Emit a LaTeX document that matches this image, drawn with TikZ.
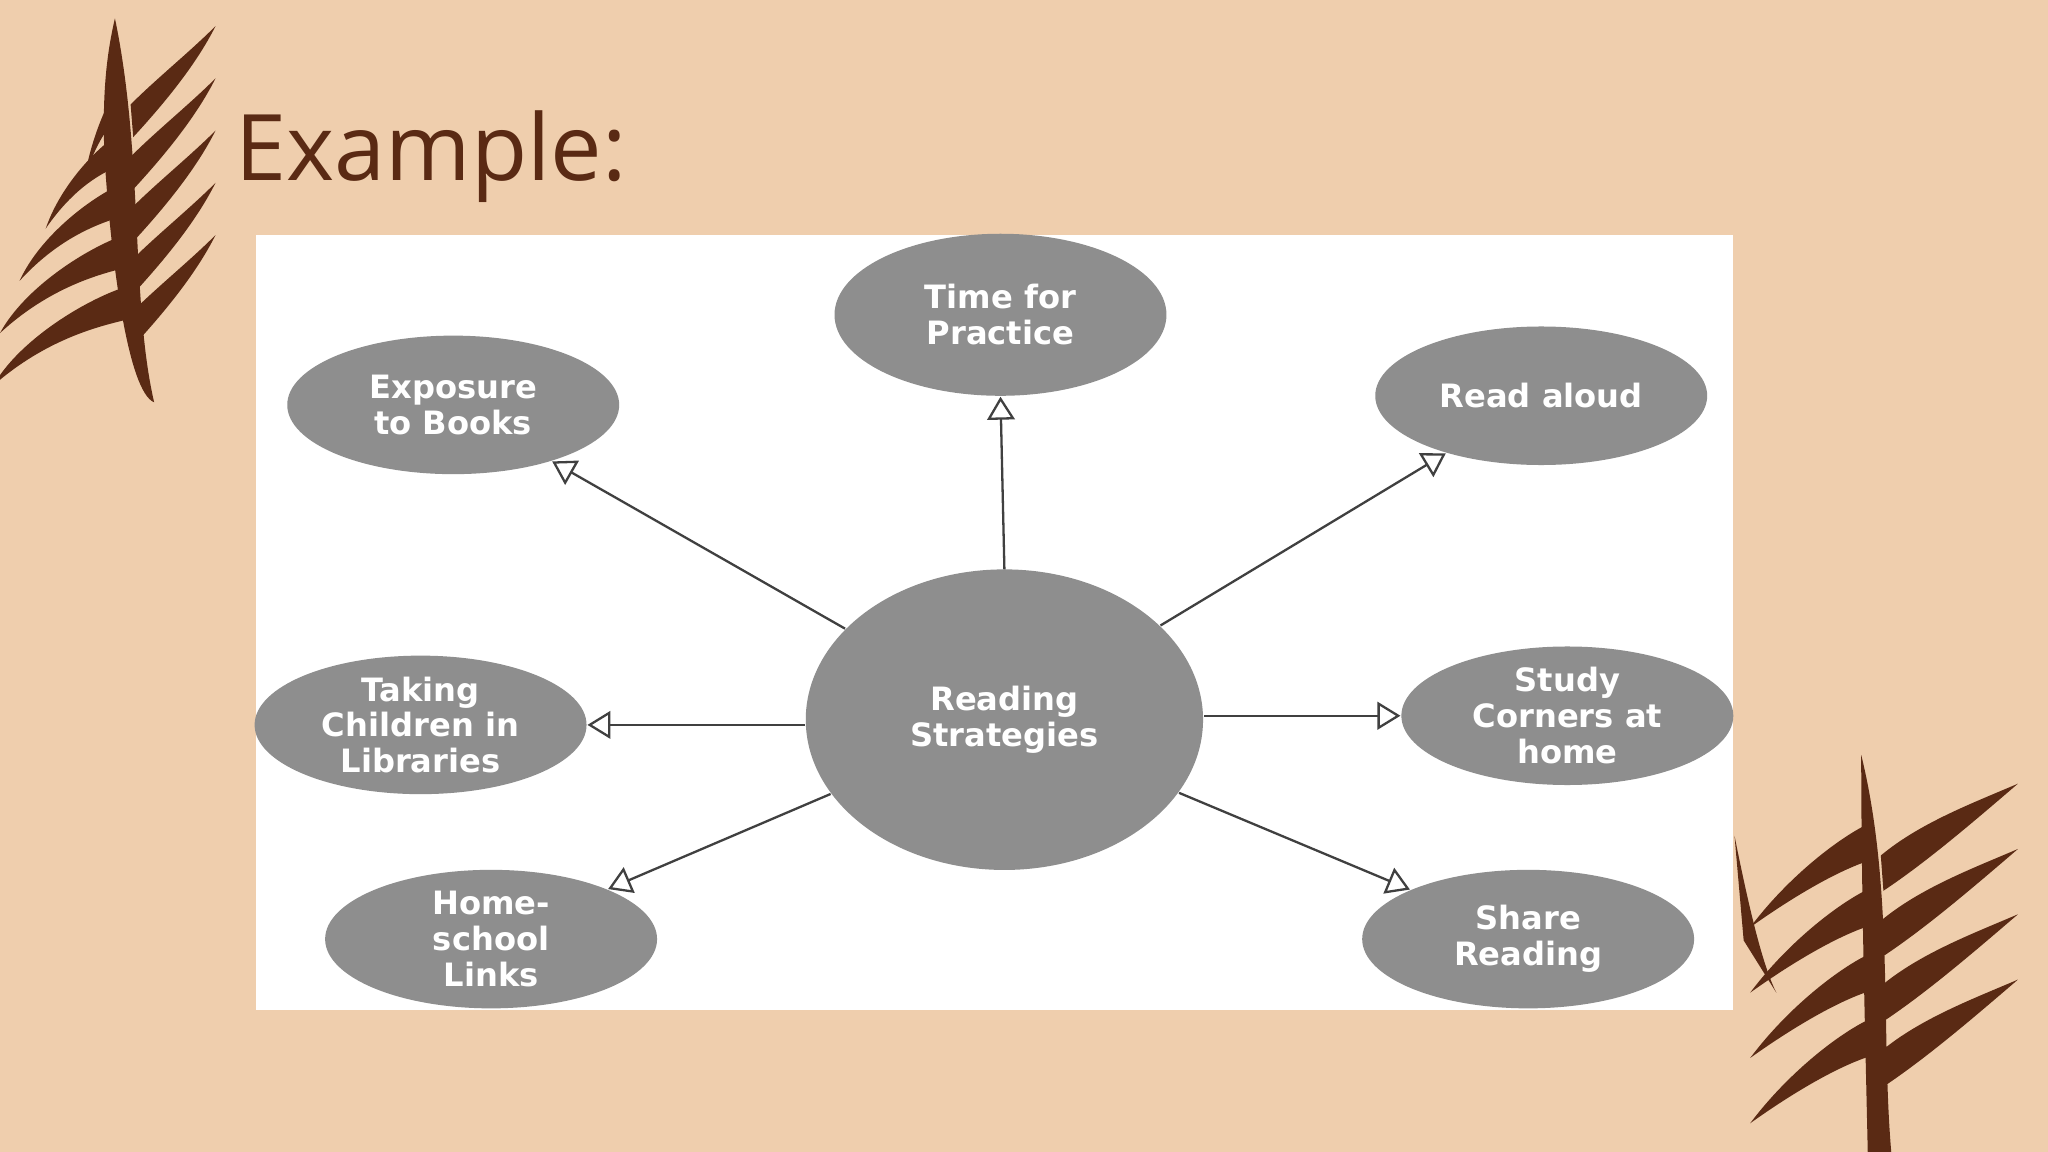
\documentclass[tikz,border=0pt]{standalone}
\usepackage{fontspec}
\setmainfont{Open Sans}
\newfontfamily\nodefont{DejaVu Sans}
\usetikzlibrary{shapes.geometric,arrows.meta}
\definecolor{bg}{HTML}{EFCEAD}
\definecolor{brn}{HTML}{5A2A14}
\definecolor{ell}{HTML}{8E8E8E}
\tikzset{
  bub/.style={ellipse,fill=ell,text=white,font=\nodefont\bfseries\fontsize{7}{7.8}\selectfont,align=center,inner sep=0pt,minimum width=2.54cm,minimum height=1.06cm},
  con/.style={draw=black!75,line width=0.5pt,-{Triangle[open,length=5pt,width=6pt]}},
  stripe/.style={fill=brn,draw=none}
}
\begin{document}
\begin{tikzpicture}[x=0.01cm,y=-0.01cm]
\fill[bg] (0,0) rectangle (1568,882);
\useasboundingbox (0,0) rectangle (1568,882);
% leaves top-left
\begin{scope}
\fill[stripe] (88,14) .. controls (110,120) and (100,230) .. (118,308) .. controls (98,300) and (85,200) .. (80,120) .. controls (78,70) and (82,40) .. (88,14);
\foreach \y/\l in {60/30,100/60,140/80,180/95,220/100}{
  \fill[stripe] (95,\y) .. controls (95-\l*0.3,\y+10) and (95-\l*0.8,\y+40) .. (95-\l,\y+75) .. controls (95-\l*0.6,\y+40) and (95-\l*0.2,\y+30) .. (96,\y+25) -- cycle;
  \fill[stripe] (100,\y+20) .. controls (120,\y) and (145,\y-20) .. (165,\y-40) .. controls (150,\y-10) and (125,\y+20) .. (102,\y+45) -- cycle;
}
\end{scope}
% leaves bottom-right
\begin{scope}
\fill[stripe] (1425,578) .. controls (1450,680) and (1440,790) .. (1448,882) -- (1430,882) .. controls (1428,790) and (1425,680) .. (1425,578);
\foreach \y/\l in {630/60,680/80,730/90,780/90}{
  \fill[stripe] (1432,\y) .. controls (1410,\y+10) and (1370,\y+40) .. (1340,\y+80) .. controls (1375,\y+55) and (1410,\y+35) .. (1434,\y+28) -- cycle;
  \fill[stripe] (1440,\y+25) .. controls (1470,\y) and (1510,\y-15) .. (1545,\y-30) .. controls (1510,\y) and (1475,\y+30) .. (1442,\y+52) -- cycle;
}
\fill[stripe] (1328,640) .. controls (1340,700) and (1350,740) .. (1360,760) -- (1335,720) -- cycle;
\end{scope}
\node[anchor=west,text=brn,font=\fontsize{20}{24}\selectfont] (title) at (168,120) {Example:};
\fill[white] (196,180) rectangle (1327,773);
\node[bub,minimum width=3.04cm,minimum height=2.3cm] (c) at (769,551) {Reading\\Strategies};
\node[bub,minimum height=1.24cm] (t) at (766,241) {Time for\\Practice};
\node[bub] (e) at (347,310) {Exposure\\to Books};
\node[bub] (r) at (1180,303) {Read aloud};
\node[bub] (k) at (322,555) {Taking\\Children in\\Libraries};
\node[bub] (s) at (1200,548) {Study\\Corners at\\home};
\node[bub] (h) at (376,719) {Home-\\school\\Links};
\node[bub] (sr) at (1170,719) {Share\\Reading};
\draw[con] (769,436) -- (t.south);
\draw[con] (c) -- (e);
\draw[con] (c) -- (r);
\draw[con] (c.west |- k) -- (k);
\draw[con] (c.east |- s) -- (s);
\draw[con] (c) -- (h);
\draw[con] (c) -- (sr);
\end{tikzpicture}
\end{document}
